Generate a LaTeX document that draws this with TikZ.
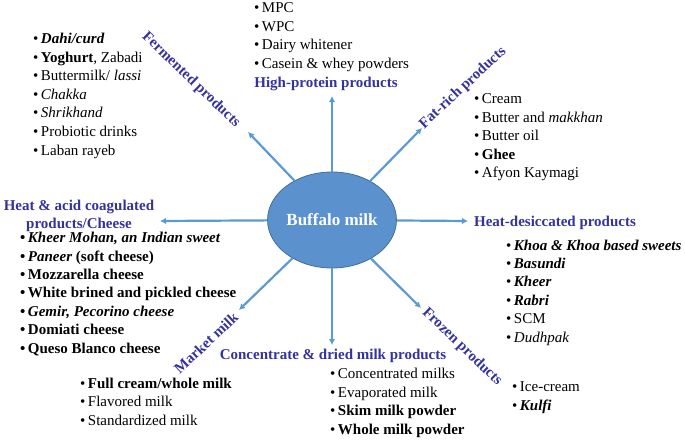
\documentclass[tikz,border=0pt]{standalone}
\usepackage{fontspec}
\setmainfont{Liberation Serif}
\usetikzlibrary{arrows.meta,shapes.geometric}
\definecolor{ttlblue}{RGB}{52,50,158}
\definecolor{arw}{RGB}{91,155,213}
\definecolor{elfill}{RGB}{91,146,205}
\definecolor{eldraw}{RGB}{65,110,160}
\newcommand{\lbul}{\textbullet\hspace{2.5pt}}
\begin{document}
\begin{tikzpicture}[x=1pt,y=-1pt,
  arr/.style={draw=arw,line width=2.2pt,-{Latex[length=6pt,width=6.5pt]}},
  ttl/.style={text=ttlblue,font=\fontsize{15}{18}\selectfont\bfseries,inner sep=0pt},
  lst/.style={font=\fontsize{15}{18.4}\selectfont,align=left,inner sep=0pt,anchor=base west},
]
\useasboundingbox (0,0) rectangle (685,439);

\node[ellipse, fill=elfill, draw=eldraw, line width=0.8pt, minimum width=122pt, minimum height=96pt, inner sep=0pt] (bm) at (332,220)
  {\fontsize{17}{20}\selectfont\bfseries\color{white}Buffalo milk};

\coordinate (tUp) at (332,96);
\coordinate (tUL) at (248,132);
\coordinate (tUR) at (422,128);
\coordinate (tL) at (160,221);
\coordinate (tR) at (468,221);
\coordinate (tD) at (332,345);
\coordinate (tDL) at (239,310);
\coordinate (tDR) at (421,308);

\draw[arr] (bm) -- (tUp);
\draw[arr] (bm) -- (tUL);
\draw[arr] (bm) -- (tUR);
\draw[arr] (bm) -- (tL);
\draw[arr] (bm) -- (tR);
\draw[arr] (bm) -- (tD);
\draw[arr] (bm) -- (tDL);
\draw[arr] (bm) -- (tDR);

\node[ttl, anchor=base] (hp) at (326,87) {High-protein products};
\node[ttl, rotate=-44] (fe) at (191,80) {Fermented products};
\node[ttl, rotate=43] (fr) at (463,88) {Fat-rich products};
\node[ttl, align=center, anchor=base] (ha) at (79,228) {Heat \& acid coagulated\\products/Cheese};
\node[ttl, anchor=base] (hd) at (555,226) {Heat-desiccated products};
\node[ttl, anchor=base] (cd) at (333,359) {Concentrate \& dried milk products};
\node[ttl, rotate=43] (mm) at (206,343) {Market milk};
\node[ttl, rotate=-44] (fz) at (462,347) {Frozen products};

\node[lst, font=\fontsize{15}{18.6}\selectfont] (lfe) at (33,155) {%
\lbul\textbf{\textit{Dahi/curd}}\\
\lbul\textbf{Yoghurt}, Zabadi\\
\lbul Buttermilk/ \textit{lassi}\\
\lbul\textit{Chakka}\\
\lbul\textit{Shrikhand}\\
\lbul Probiotic drinks\\
\lbul Laban rayeb};

\node[lst] (lhp) at (254,68) {%
\lbul MPC\\
\lbul WPC\\
\lbul Dairy whitener\\
\lbul Casein \& whey powders};

\node[lst] (lfr) at (474,177.5) {%
\lbul Cream\\
\lbul Butter and \textit{makkhan}\\
\lbul Butter oil\\
\lbul\textbf{Ghee}\\
\lbul Afyon Kaymagi};

\node[lst, font=\fontsize{15}{18.4}\selectfont\bfseries] (lha) at (20,353) {%
\lbul\textit{Kheer Mohan, an Indian sweet}\\
\lbul\textit{Paneer} (soft cheese)\\
\lbul Mozzarella cheese\\
\lbul White brined and pickled cheese\\
\lbul\textit{Gemir, Pecorino cheese}\\
\lbul Domiati cheese\\
\lbul Queso Blanco cheese};

\node[lst] (lmm) at (80,425) {%
\lbul\textbf{Full cream/whole milk}\\
\lbul Flavored milk\\
\lbul Standardized milk};

\node[lst] (lcd) at (330,434) {%
\lbul Concentrated milks\\
\lbul Evaporated milk\\
\lbul\textbf{Skim milk powder}\\
\lbul\textbf{Whole milk powder}};

\node[lst] (lhd) at (506,342) {%
\lbul\textbf{\textit{Khoa \& Khoa based sweets}}\\
\lbul\textbf{\textit{Basundi}}\\
\lbul\textbf{\textit{Kheer}}\\
\lbul\textbf{\textit{Rabri}}\\
\lbul SCM\\
\lbul\textit{Dudhpak}};

\node[lst] (lfz) at (512,410) {%
\lbul Ice-cream\\
\lbul\textbf{\textit{Kulfi}}};
\end{tikzpicture}
\end{document}
